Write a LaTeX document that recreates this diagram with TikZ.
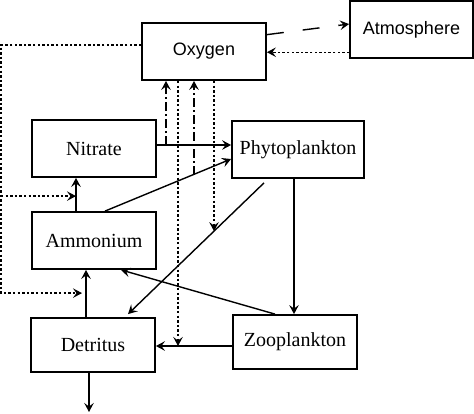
\documentclass[tikz,border=0pt]{standalone}
\usepackage{fontspec}
\setmainfont{Liberation Serif}
\newfontfamily\sansfont{Liberation Sans}
\usetikzlibrary{arrows.meta,calc}

\begin{document}
\begin{tikzpicture}[x=1pt,y=-1pt]
        \tikzstyle{box}=[draw,rectangle,line width=1.8pt,minimum width=124pt,minimum height=57pt,inner sep=0pt,font=\fontsize{20}{24}\selectfont]
        \tikzstyle{sansbox}=[box,font=\sansfont\fontsize{18}{22}\selectfont]
        \tikzstyle{flow}=[line width=1.4pt,-{Stealth[length=9pt,width=9.5pt,inset=3.5pt]}]
        \tikzstyle{dots}=[flow,dash pattern=on 2.4pt off 2.2pt]
        \tikzstyle{dashdot}=[flow,dash pattern=on 9pt off 3pt on 2pt off 3pt]
        \tikzstyle{longdash}=[flow,dash pattern=on 17pt off 19pt]
        \useasboundingbox (0,0) rectangle (474,413);
        % boxes
        \node[sansbox] (oxy) at (204,51.5) {Oxygen};
        \node[sansbox,minimum width=123pt] (atm) at (411.5,29.5) {Atmosphere};
        \node[box] (nit) at (94,148.5) {Nitrate};
        \node[box,minimum width=132pt] (phy) at (298,149.5) {Phytoplankton};
        \node[box] (amm) at (94,240.5) {Ammonium};
        \node[box,minimum height=54pt] (det) at (93,345) {Detritus};
        \node[box,minimum height=54pt] (zoo) at (295,342) {Zooplankton};
        % helper points
        \coordinate (edge) at (1,0);
        \coordinate (out) at (89,412);
        \coordinate (an) at ([xshift=-18pt]amm.north);
        \coordinate (dn) at ([xshift=-7pt]det.north);
        \coordinate (np) at ([yshift=3.5pt]nit.east);
        \coordinate (ap1) at ([xshift=11pt]amm.north);
        \coordinate (ap2) at ([yshift=-9.5pt]phy.west);
        \coordinate (pd1) at ([xshift=-34pt,yshift=-4pt]phy.south);
        \coordinate (pd2) at ([xshift=35pt,yshift=3pt]det.north);
        \coordinate (zd) at ([yshift=-4pt]zoo.west);
        \coordinate (o1) at ([xshift=-38pt]oxy.south);
        \coordinate (o2) at ([xshift=-10pt]oxy.south);
        \coordinate (o3) at ([xshift=-26pt]oxy.south);
        \coordinate (o4) at ([xshift=10pt]oxy.south);
        \coordinate (lo) at ([xshift=-4pt,yshift=24pt]dn);
        \coordinate (hi) at ([yshift=15pt]an);
        % solid fluxes
        \draw[flow] (an) -- (an |- nit.south);
        \draw[flow] (dn) -- (dn |- amm.south);
        \draw[flow] (np) -- (np -| phy.west);
        \draw[flow] (ap1) -- (ap2);
        \draw[flow] (pd1) -- (pd2);
        \draw[flow] ([xshift=-4pt]phy.south) -- ([xshift=-4pt]phy.south |- zoo.north);
        \draw[flow] ([xshift=-20pt]zoo.north) -- ([xshift=27pt]amm.south);
        \draw[flow] (zd) -- (zd -| det.east);
        \draw[flow] ([xshift=-4pt]det.south) -- (out);
        % oxygen fluxes
        \draw[longdash] (oxy.15) -- (atm.175);
        \draw[dots] (atm.200) -- (atm.200 -| oxy.east);
        \draw[dots] ([yshift=6.5pt]oxy.west) -| (lo -| edge) -- (lo);
        \draw[dots] (hi -| edge) -- (hi);
        \draw[dashdot] (o1 |- np) -- (o1);
        \draw[dashdot] (o2 |- {$(ap1)!0.7!(ap2)$}) -- (o2);
        \draw[dots] (o3) -- (o3 |- zd);
        \draw[dots] (o4) -- (o4 |- {$(pd1)!0.3676!(pd2)$});
\end{tikzpicture}
\end{document}
